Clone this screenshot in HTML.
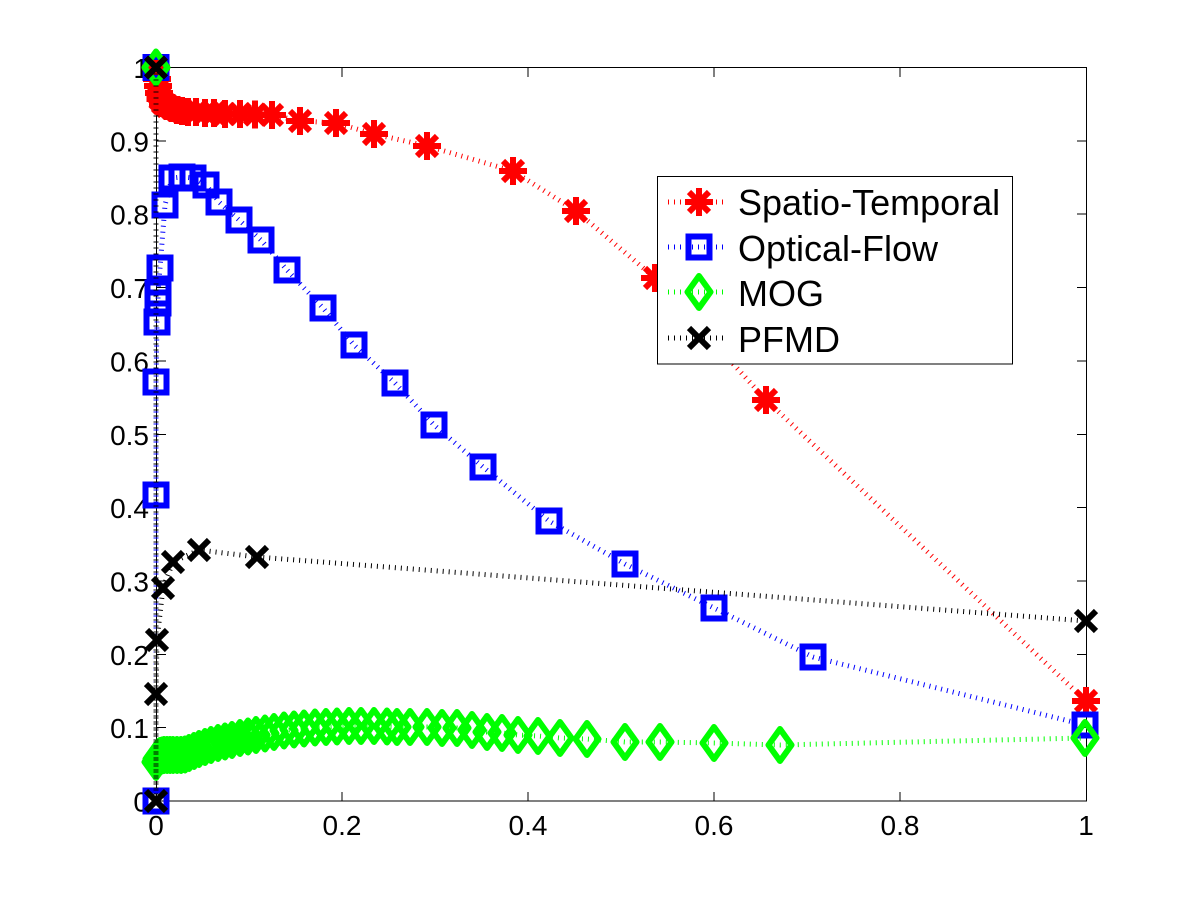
<!DOCTYPE html>
<html><head><meta charset="utf-8"><style>
html,body{margin:0;padding:0;background:#fff;}
svg{display:block;}
text{font-family:"Liberation Sans",Arial,sans-serif;fill:#000;}
</style></head><body>
<svg width="1200" height="900" viewBox="0 0 1200 900" xmlns="http://www.w3.org/2000/svg">
<defs>
<g id="ast"><path d="M-14,0H14M0,-14V14M-10,-10L10,10M-10,10L10,-10" stroke="#ff0000" stroke-width="6" fill="none"/></g>
<g id="sq"><rect x="-10.5" y="-10.5" width="21" height="21" stroke="#0000ff" stroke-width="6" fill="none"/></g>
<g id="dia"><path d="M0,-16L11.5,0L0,16L-11.5,0Z" stroke="#00ff00" stroke-width="6" stroke-linejoin="round" fill="none"/></g>
<g id="xx"><path d="M-10,-10L10,10M-10,10L10,-10" stroke="#000" stroke-width="6" fill="none"/></g>
</defs>
<rect width="1200" height="900" fill="#fff"/>
<!-- axes box -->
<g stroke="#000" stroke-width="1" shape-rendering="crispEdges" fill="none">
<rect x="156.5" y="67.5" width="930" height="733.5"/>
<path d="M342,801V792M528,801V792M714,801V792M900,801V792M342,68V77M528,68V77M714,68V77M900,68V77"/>
<path d="M157,727.65H166M157,654.3H166M157,580.95H166M157,507.6H166M157,434.25H166M157,360.9H166M157,287.55H166M157,214.2H166M157,140.85H166
M1086,727.65H1077M1086,654.3H1077M1086,580.95H1077M1086,507.6H1077M1086,434.25H1077M1086,360.9H1077M1086,287.55H1077M1086,214.2H1077M1086,140.85H1077"/>
</g>
<!-- tick labels -->
<g font-size="28" text-anchor="end">
<text x="149" y="811.5">0</text>
<text x="149" y="738.2">0.1</text>
<text x="149" y="664.8">0.2</text>
<text x="149" y="591.5">0.3</text>
<text x="149" y="518.1">0.4</text>
<text x="149" y="444.8">0.5</text>
<text x="149" y="371.4">0.6</text>
<text x="149" y="298.1">0.7</text>
<text x="149" y="224.7">0.8</text>
<text x="149" y="151.4">0.9</text>
<text x="149" y="78">1</text>
</g>
<g font-size="28" text-anchor="middle">
<text x="156" y="835">0</text>
<text x="342" y="835">0.2</text>
<text x="528" y="835">0.4</text>
<text x="714" y="835">0.6</text>
<text x="900" y="835">0.8</text>
<text x="1086" y="835">1</text>
</g>

<!-- Spatio-Temporal -->
<polyline fill="none" stroke="#ff0000" stroke-width="5" stroke-dasharray="1 5" points="156,67.5 157,79 158,86 159,93 160.5,99 163,103 167,106 172,108 177,110 182,111 188,112 196,112 205,113 214,113 225,114 240,114 255,114.5 272,115 300,121 336,123 374,134 427,146 513,171 576,211 655,278 766,400 1086,701"/>
<g>
<use href="#ast" x="156" y="67.5"/><use href="#ast" x="157" y="79"/><use href="#ast" x="158" y="86"/><use href="#ast" x="159" y="93"/><use href="#ast" x="160.5" y="99"/><use href="#ast" x="163" y="103"/><use href="#ast" x="167" y="106"/><use href="#ast" x="172" y="108"/><use href="#ast" x="177" y="110"/><use href="#ast" x="182" y="111"/><use href="#ast" x="188" y="112"/><use href="#ast" x="196" y="112"/><use href="#ast" x="205" y="113"/><use href="#ast" x="214" y="113"/><use href="#ast" x="225" y="114"/><use href="#ast" x="240" y="114"/><use href="#ast" x="255" y="114.5"/><use href="#ast" x="272" y="115"/><use href="#ast" x="300" y="121"/><use href="#ast" x="336" y="123"/><use href="#ast" x="374" y="134"/><use href="#ast" x="427" y="146"/><use href="#ast" x="513" y="171"/><use href="#ast" x="576" y="211"/><use href="#ast" x="655" y="278"/><use href="#ast" x="766" y="400"/><use href="#ast" x="1086" y="701"/>
</g>

<!-- Optical-Flow -->
<polyline fill="none" stroke="#0000ff" stroke-width="5" stroke-dasharray="1 5" points="156,67.5 156,801 156,495 156,382 157,322 158,303 158,293 160,268 165,205 172,178 182,177 193,178 206,185 219,202 239,220 261,240 287,270 323,308 354,345 395,383 434,425 483,467 549,521 625,564 714,608 813,657 1085,725"/>
<g>
<use href="#sq" x="156" y="67.5"/><use href="#sq" x="156" y="801"/><use href="#sq" x="156" y="495"/><use href="#sq" x="156" y="382"/><use href="#sq" x="157" y="322"/><use href="#sq" x="158" y="303"/><use href="#sq" x="158" y="293"/><use href="#sq" x="160" y="268"/><use href="#sq" x="165" y="205"/><use href="#sq" x="172" y="178"/><use href="#sq" x="182" y="177"/><use href="#sq" x="193" y="178"/><use href="#sq" x="206" y="185"/><use href="#sq" x="219" y="202"/><use href="#sq" x="239" y="220"/><use href="#sq" x="261" y="240"/><use href="#sq" x="287" y="270"/><use href="#sq" x="323" y="308"/><use href="#sq" x="354" y="345"/><use href="#sq" x="395" y="383"/><use href="#sq" x="434" y="425"/><use href="#sq" x="483" y="467"/><use href="#sq" x="549" y="521"/><use href="#sq" x="625" y="564"/><use href="#sq" x="714" y="608"/><use href="#sq" x="813" y="657"/><use href="#sq" x="1085" y="725"/>
</g>

<!-- MOG -->
<polyline fill="none" stroke="#00ff00" stroke-width="5" stroke-dasharray="1 5" points="156,67.5 156,762 157,759 158.5,757 160,756 162,755.5 164,755 167,755 170,755 173,755 177,755 181,755 185,754.5 189,753 194,751 199,749 205,747 211,745 218,743 225,741.5 232,740 240,738 248,736.5 256,735 265,733.5 274,732 284,730.5 294,729.5 304,728.5 315,727.5 326,727 337,726.5 349,726 361,726 374,726 387,726.5 397,727 410,727 427,727 442,728 457,728 472,730 487,732 502,733 518,735 538,736 560,738 587,739 625,742 660,742 714,743 780,745 1085,738"/>
<g>
<use href="#dia" x="156" y="67.5"/><use href="#dia" x="156" y="762"/><use href="#dia" x="157" y="759"/><use href="#dia" x="158.5" y="757"/><use href="#dia" x="160" y="756"/><use href="#dia" x="162" y="755.5"/><use href="#dia" x="164" y="755"/><use href="#dia" x="167" y="755"/><use href="#dia" x="170" y="755"/><use href="#dia" x="173" y="755"/><use href="#dia" x="177" y="755"/><use href="#dia" x="181" y="755"/><use href="#dia" x="185" y="754.5"/><use href="#dia" x="189" y="753"/><use href="#dia" x="194" y="751"/><use href="#dia" x="199" y="749"/><use href="#dia" x="205" y="747"/><use href="#dia" x="211" y="745"/><use href="#dia" x="218" y="743"/><use href="#dia" x="225" y="741.5"/><use href="#dia" x="232" y="740"/><use href="#dia" x="240" y="738"/><use href="#dia" x="248" y="736.5"/><use href="#dia" x="256" y="735"/><use href="#dia" x="265" y="733.5"/><use href="#dia" x="274" y="732"/><use href="#dia" x="284" y="730.5"/><use href="#dia" x="294" y="729.5"/><use href="#dia" x="304" y="728.5"/><use href="#dia" x="315" y="727.5"/><use href="#dia" x="326" y="727"/><use href="#dia" x="337" y="726.5"/><use href="#dia" x="349" y="726"/><use href="#dia" x="361" y="726"/><use href="#dia" x="374" y="726"/><use href="#dia" x="387" y="726.5"/><use href="#dia" x="397" y="727"/><use href="#dia" x="410" y="727"/><use href="#dia" x="427" y="727"/><use href="#dia" x="442" y="728"/><use href="#dia" x="457" y="728"/><use href="#dia" x="472" y="730"/><use href="#dia" x="487" y="732"/><use href="#dia" x="502" y="733"/><use href="#dia" x="518" y="735"/><use href="#dia" x="538" y="736"/><use href="#dia" x="560" y="738"/><use href="#dia" x="587" y="739"/><use href="#dia" x="625" y="742"/><use href="#dia" x="660" y="742"/><use href="#dia" x="714" y="743"/><use href="#dia" x="780" y="745"/><use href="#dia" x="1085" y="738"/>
</g>

<!-- PFMD -->
<polyline fill="none" stroke="#000" stroke-width="5" stroke-dasharray="1 5" points="156,67.5 156,801 156,694 157,640 163,588 173,562 199,550 257,557 1086,621"/>
<g>
<use href="#xx" x="156" y="67.5"/><use href="#xx" x="156" y="801"/><use href="#xx" x="156" y="694"/><use href="#xx" x="157" y="640"/><use href="#xx" x="163" y="588"/><use href="#xx" x="173" y="562"/><use href="#xx" x="199" y="550"/><use href="#xx" x="257" y="557"/><use href="#xx" x="1086" y="621"/>
</g>

<!-- Legend -->
<rect x="657.5" y="176.5" width="355" height="187.5" fill="#fff" stroke="#000" stroke-width="1" shape-rendering="crispEdges"/>
<g stroke-width="5" stroke-dasharray="1 5" fill="none">
<path d="M668,202H728" stroke="#ff0000"/>
<path d="M668,247H728" stroke="#0000ff"/>
<path d="M668,292H728" stroke="#00ff00"/>
<path d="M668,338H728" stroke="#000"/>
</g>
<use href="#ast" x="699" y="202"/>
<use href="#sq" x="699" y="247"/>
<use href="#dia" x="699" y="292"/>
<use href="#xx" x="699" y="338"/>
<g font-size="36">
<text x="738" y="215">Spatio-Temporal</text>
<text x="738" y="261">Optical-Flow</text>
<text x="738" y="306">MOG</text>
<text x="738" y="352">PFMD</text>
</g>
</svg>
</body></html>
